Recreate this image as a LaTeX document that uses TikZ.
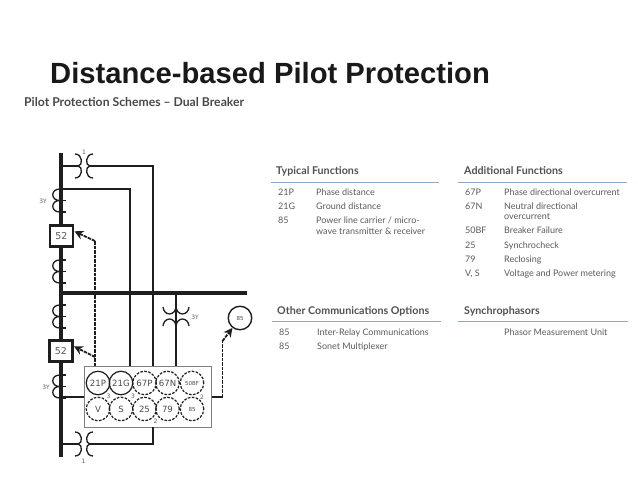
\documentclass[tikz,border=0pt]{standalone}
\usepackage{fontspec}
\usepackage{xcolor}
\usetikzlibrary{arrows.meta}
\setmainfont{Liberation Sans}
\newfontfamily\schemfont{DejaVu Sans}
\newfontfamily\tabfont{Lato}
\definecolor{wirecol}{HTML}{1E1E1E}
\definecolor{tabcol}{HTML}{5A5A5A}
\definecolor{rulecol}{HTML}{8FA9C6}
\tikzset{
    wire/.style={draw=wirecol, line width=1.5pt},
    buswire/.style={draw=wirecol, line width=3.4pt},
    ctrl/.style={draw=wirecol, line width=1.8pt, dash pattern=on 3.5pt off 1pt},
    tiparrow/.style={-{Stealth[length=9pt,width=9pt]}},
    breaker/.style={draw=wirecol, line width=2.8pt, fill=white, minimum width=23pt, minimum height=21pt, inner sep=0pt, text=tabcol, font=\schemfont\fontsize{9.5}{10}\selectfont},
    relay/.style={circle, draw=wirecol, line width=1.2pt, minimum size=23.5pt, inner sep=0pt, text=wirecol!80, font=\schemfont\fontsize{8.6}{10}\selectfont},
    dashrelay/.style={relay, dash pattern=on 2.6pt off 1.4pt},
    smallrelay/.style={font=\schemfont\fontsize{5.5}{6}\selectfont},
    tiny/.style={inner sep=0pt, text=tabcol, font=\schemfont\fontsize{6}{6}\selectfont},
    head/.style={anchor=west, inner sep=0pt, text=tabcol!90!black, text height=8pt, text depth=1.5pt, font=\tabfont\bfseries\fontsize{10.7}{11}\selectfont},
    entry/.style={anchor=west, inner sep=0pt, text=tabcol, text height=6.5pt, text depth=0.5pt, font=\tabfont\fontsize{9}{10}\selectfont},
    hrule/.style={draw=rulecol, line width=1pt},
    buscoil/.pic={
        \draw[wire, line width=1.3pt] (0,0) .. controls (-11,-1) and (-11,12.5) .. (0,11.5) .. controls (-11,10.5) and (-11,24) .. (0,23);
        \draw[wire, line width=1.3pt] (0,0) -- (5,0);
        \draw[wire, line width=1.3pt] (0,11.5) -- (5,11.5);
        \draw[wire, line width=1.3pt] (0,23) -- (5,23);
    },
    ctcoil/.pic={
        \draw[wire, line width=1.3pt] (-8,-12) .. controls (0,-12) and (0,0) .. (-5,0) .. controls (0,0) and (0,12) .. (-8,12);
        \draw[wire, line width=1.3pt] (10,-12) .. controls (2,-12) and (2,0) .. (7,0) .. controls (2,0) and (2,12) .. (10,12);
    },
    ptcoil/.pic={
        \draw[wire, line width=1.3pt] (-13,-9.5) .. controls (-12,-0.2) and (-1,-0.2) .. (0,-9.5) .. controls (1,-0.2) and (12,-0.2) .. (13,-9.5);
        \draw[wire, line width=1.3pt] (-13,9.5) .. controls (-12,0.2) and (-1,0.2) .. (0,9.5) .. controls (1,0.2) and (12,0.2) .. (13,9.5);
    },
}
\begin{document}
\begin{tikzpicture}[x=1pt,y=-1pt]
    \useasboundingbox (0,0) rectangle (638,479);
    \node[anchor=west, inner sep=0pt, font=\bfseries\fontsize{29.2}{30}\selectfont, text=black!90] (title) at (50,73) {Distance-based Pilot Protection};
    \node[anchor=west, inner sep=0pt, text=tabcol!80!black, font=\tabfont\bfseries\fontsize{12.2}{13}\selectfont] (subtitle) at (24,102) {Pilot Protection Schemes – Dual Breaker};

    % bus ends and wire corners
    \coordinate (busTop) at (61,153);
    \coordinate (busBot) at (61,457);
    \coordinate (barL) at (61,293);
    \coordinate (barR) at (247,293);
    \coordinate (ctTopIn) at (61,166);
    \coordinate (ctTopL) at (78,166);
    \coordinate (ctTopR) at (90,166);
    \coordinate (ctBotIn) at (61,444);
    \coordinate (ctBotL) at (78,444);
    \coordinate (ctBotR) at (90,444);
    \coordinate (coilTop) at (61,189);
    \coordinate (coilLow) at (61,397);

    \node[draw=black!50, line width=1pt, fill=white, minimum width=127pt, minimum height=61pt, inner sep=0pt] (relaybox) at (147.5,396.5) {};

    \draw[wire] (ctTopIn) -- (ctTopL); % top ct, bus side
    \draw[wire] (ctTopR) -| (153,293) -- (153,366); % top ct to relay
    \draw[wire] (coilTop) -| (130,366); % top 3Y to relay
    \draw[wire] (coilLow) -- (84,397); % low 3Y to relay
    \draw[wire] (ctBotIn) -- (ctBotL); % low ct, bus side
    \draw[wire] (ctBotR) -| (153,427); % low ct to relay
    \draw[wire] (176,293) -- (176,366); % pt to relay

    \pic at (61,189) {buscoil};
    \pic at (61,260) {buscoil};
    \pic at (61,305) {buscoil};
    \pic at (61,375) {buscoil};
    \pic at (83,166) {ctcoil};
    \pic at (83,444) {ctcoil};
    \pic at (176,316.5) {ptcoil};

    \draw[buswire] (busTop) -- (busBot);
    \draw[buswire] (barL) -- (barR);

    \node[breaker] (brkTop) at (61.5,236) {52};
    \node[breaker] (brkBot) at (61,351) {52};
    \node[relay, smallrelay, line width=1.4pt] (com) at (240,318) {85};

    % control lines
    \coordinate (trA) at (95,241);
    \coordinate (trB) at (95,357);
    \coordinate (comC) at (222.5,397);
    \coordinate (comD) at (222.5,341);
    \draw[ctrl] (trA) -- (95,366);
    \draw[ctrl, tiparrow] (trA) -- (brkTop.20);
    \draw[ctrl, tiparrow] (trB) -- (brkBot.20);
    \draw[wire] (relaybox.east |- comC) -- (comC);
    \draw[ctrl] (comC) -- (comD);
    \draw[ctrl, tiparrow] (comD) -- (com);

    % relay circles
    \node[relay] (r21P) at (98,383) {21P};
    \node[relay] (r21G) at (121,383) {21G};
    \node[dashrelay] (r67P) at (144.5,383) {67P};
    \node[dashrelay] (r67N) at (167.5,383) {67N};
    \node[dashrelay, smallrelay] (r50BF) at (192,383) {50BF};
    \node[dashrelay] (rV) at (98,409) {V};
    \node[dashrelay] (rS) at (121,409) {S};
    \node[dashrelay] (r25) at (144.5,409) {25};
    \node[dashrelay] (r79) at (167.5,409) {79};
    \node[dashrelay, smallrelay] (r85) at (192,409) {85};

    \node[tiny] (n3a) at (108.5,396) {3};
    \node[tiny] (n3b) at (133,396) {3};
    \node[tiny] (n2a) at (202,397) {2};
    \node[tiny] (n2b) at (155.5,421) {2};
    \node[tiny] (n1a) at (84,152) {1};
    \node[tiny] (n1b) at (83.5,461) {1};
    \node[tiny] (y3a) at (43,201) {3Y};
    \node[tiny] (y3b) at (46,387) {3Y};
    \node[tiny] (y3c) at (195,317) {3Y};

    % tables
    \node[head] (typ) at (276,171) {Typical Functions};
    \draw[hrule] (271,182) -- (439,182);
    \node[entry] (a1) at (278,192) {21P};
    \node[entry] (a2) at (316,192) {Phase distance};
    \node[entry] (b1) at (278,206) {21G};
    \node[entry] (b2) at (316,206) {Ground distance};
    \node[entry] (c1) at (278,220) {85};
    \node[entry] (c2) at (316,220) {Power line carrier / micro-};
    \node[entry] (c3) at (316,231) {wave transmitter \& receiver};

    \node[head] (add) at (464,171) {Additional Functions};
    \draw[hrule] (458,182) -- (627,182);
    \node[entry] (d1) at (465,192) {67P};
    \node[entry] (d2) at (504,192) {Phase directional overcurrent};
    \node[entry] (e1) at (465,206) {67N};
    \node[entry] (e2) at (504,206) {Neutral directional};
    \node[entry] (e3) at (504,216) {overcurrent};
    \node[entry] (f1) at (465,230) {50BF};
    \node[entry] (f2) at (504,230) {Breaker Failure};
    \node[entry] (g1) at (465,245) {25};
    \node[entry] (g2) at (504,245) {Synchrocheck};
    \node[entry] (h1) at (465,259) {79};
    \node[entry] (h2) at (504,259) {Reclosing};
    \node[entry] (i1) at (465,273) {V, S};
    \node[entry] (i2) at (504,273) {Voltage and Power metering};

    \node[head] (oth) at (277,311) {Other Communications Options};
    \draw[hrule] (272,321) -- (441,321);
    \node[entry] (j1) at (279,332) {85};
    \node[entry] (j2) at (317,332) {Inter-Relay Communications};
    \node[entry] (k1) at (279,346) {85};
    \node[entry] (k2) at (317,346) {Sonet Multiplexer};

    \node[head] (syn) at (464,311) {Synchrophasors};
    \draw[hrule] (458,321) -- (628,321);
    \node[entry] (l2) at (504,332) {Phasor Measurement Unit};
\end{tikzpicture}
\end{document}
